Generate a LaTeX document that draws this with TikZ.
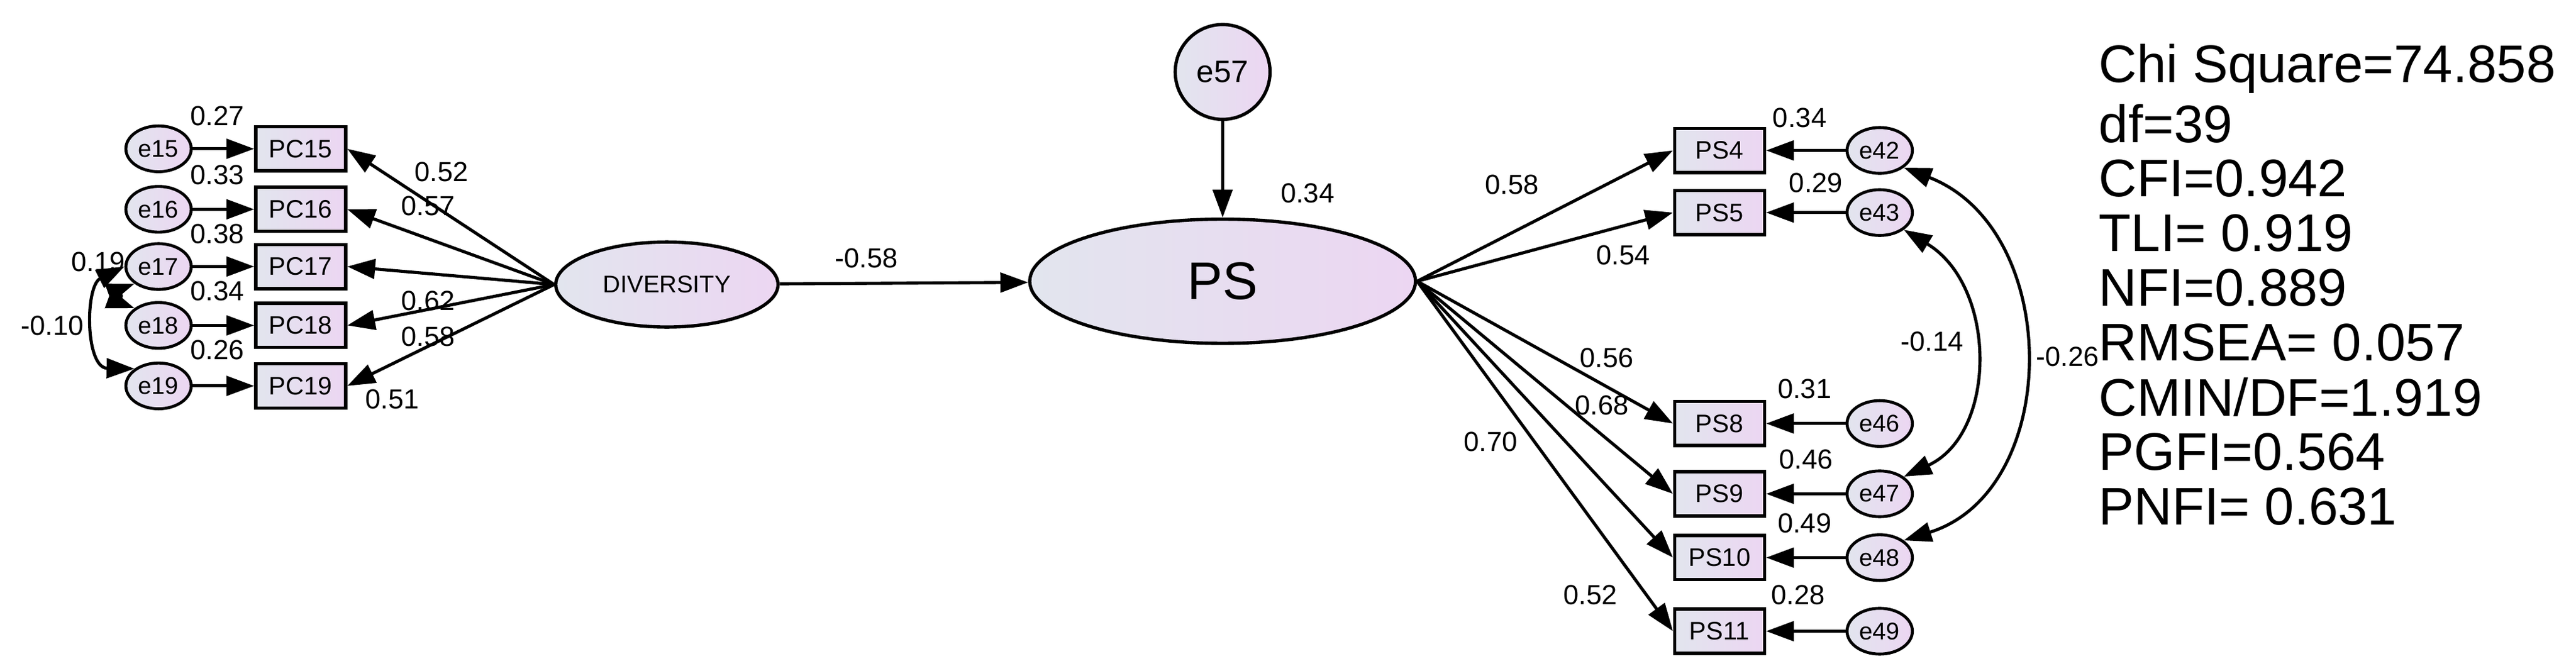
\documentclass[tikz,border=0pt]{standalone}
\usepackage{fontspec}
\setmainfont{Liberation Sans}
\usetikzlibrary{arrows.meta,shapes.geometric}
\definecolor{fa}{HTML}{E2E5EE}
\definecolor{fb}{HTML}{ECD6F2}
\tikzset{
 x=1mm,y=-1mm,
 every node/.style={font=\fontsize{42}{48}\selectfont},
 obs/.style={draw,line width=2mm,minimum width=55mm,minimum height=27mm,left color=fa,right color=fb,inner sep=0pt,font=\fontsize{44}{50}\selectfont},
 err/.style={draw,ellipse,line width=1.8mm,minimum width=40mm,minimum height=28mm,left color=fa,right color=fb,inner sep=0pt,font=\fontsize{42}{48}\selectfont},
 lat/.style={draw,ellipse,line width=2mm,left color=fa,right color=fb,inner sep=0pt},
 arr/.style={line width=1.9mm,-{Triangle[length=17mm,width=12mm]}},
 cov/.style={line width=1.9mm,{Triangle[length=17mm,width=12mm]}-{Triangle[length=17mm,width=12mm]}},
 lab/.style={font=\fontsize{48}{54}\selectfont,inner sep=0pt},
 fit/.style={anchor=west,inner sep=0pt,font=\fontsize{92}{100}\selectfont}
}
\begin{document}
\begin{tikzpicture}
\useasboundingbox (0,0) rectangle (1576,410);
% left
\foreach \n/\y in {15/91,16/128,17/163,18/199,19/236}{
 \node[err] (e\n) at (97,\y) {e\n};
 \node[obs] (PC\n) at (184,\y) {PC\n};
 \draw[arr] (e\n) -- (PC\n);
}
\node[lat,minimum width=136mm,minimum height=52mm,font=\fontsize{42}{48}\selectfont] (DIV) at (408,174) {DIVERSITY};
\foreach \n in {15,16,17,18,19}{\draw[arr] (DIV.west) -- (PC\n.east);}
\draw[cov] (e17.south west) to[out=200,in=160] (e18.north west);
\draw[cov] (e17.west) .. controls (52,175) and (52,225) .. (e19.north west);
\foreach \t/\x/\y in {0.27/133/71,0.33/133/107,0.38/133/143,0.34/133/178,0.26/133/214,0.19/60/160,-0.10/32/199,0.52/270/105,0.57/262/126,0.62/262/184,0.58/262/206,0.51/240/244}{\node[lab] at (\x,\y) {\t};}
% center
\node[lat,minimum width=236mm,minimum height=76mm,font=\fontsize{92}{100}\selectfont] (PS) at (748,172) {PS};
\node[draw,circle,line width=2mm,minimum size=58mm,left color=fa,right color=fb,inner sep=0pt,font=\fontsize{54}{60}\selectfont] (e57) at (748,44) {e57};
\draw[arr] (e57) -- (PS);
\draw[arr] (DIV) -- (PS);
\node[lab] at (530,158) {-0.58};
\node[lab] at (800,118) {0.34};
% right
\foreach \n/\e/\y in {4/42/92,5/43/130,8/46/259,9/47/302,10/48/341,11/49/386}{
 \node[obs] (PS\n) at (1052,\y) {PS\n};
 \node[err] (e\e) at (1150,\y) {e\e};
 \draw[arr] (e\e) -- (PS\n);
 \draw[arr] (PS.east) -- (PS\n.west);
}
\draw[cov] (e43.south east) .. controls (1222,175) and (1222,265) .. (e47.north east);
\draw[cov] (e42.south east) .. controls (1262,140) and (1262,300) .. (e48.north east);
\foreach \t/\x/\y in {0.34/1101/72,0.29/1111/112,0.31/1104/238,0.46/1105/281,0.49/1104/320,0.28/1100/364,0.58/925/113,0.54/993/156,0.56/983/219,0.68/980/248,0.70/912/270,0.52/973/364,-0.14/1182/209,-0.26/1265/218}{\node[lab] at (\x,\y) {\t};}
% fit
\foreach \t [count=\i] in {Chi Square=74.858,df=39,CFI=0.942,TLI= 0.919,NFI=0.889,RMSEA= 0.057,CMIN/DF=1.919,PGFI=0.564,PNFI= 0.631}{
 \node[fit] at (1284,{42+33.5*(\i-1)}) {\t};
}
\end{tikzpicture}
\end{document}
